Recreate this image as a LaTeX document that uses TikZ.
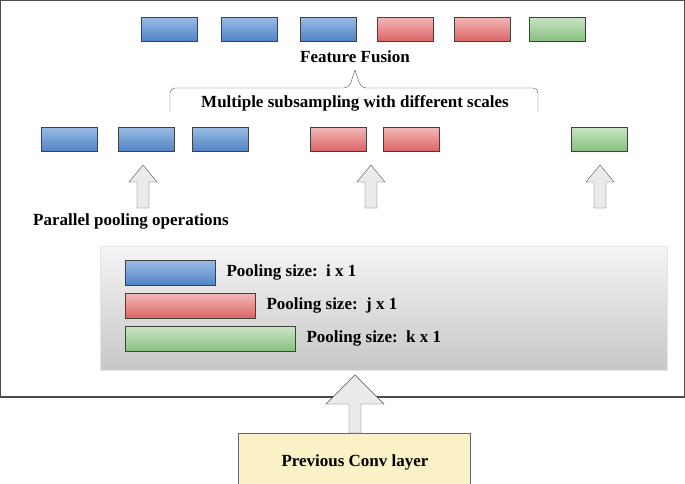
\documentclass[tikz,border=0pt]{standalone}
\usepackage{fontspec}
\setmainfont{Liberation Serif}
\usetikzlibrary{positioning}

\definecolor{bluetop}{HTML}{9BBDE6}
\definecolor{bluebot}{HTML}{5283C4}
\definecolor{redtop}{HTML}{F2B9B9}
\definecolor{redbot}{HTML}{DD6464}
\definecolor{greentop}{HTML}{CBE4C6}
\definecolor{greenbot}{HTML}{86C07E}
\definecolor{convfill}{HTML}{FBF1C6}

\tikzset{
  feat/.style={draw=black!75,minimum width=56pt,minimum height=24pt,inner sep=0pt},
  blue/.style={feat,top color=bluetop,bottom color=bluebot},
  red/.style={feat,top color=redtop,bottom color=redbot},
  green/.style={feat,top color=greentop,bottom color=greenbot},
  lbl/.style={font=\fontsize{17}{20}\selectfont\bfseries,inner sep=0pt},
  uparrow/.pic={\draw[black!70,fill=black!8] (-6,0) -- (-6,-26) -- (-14,-26) -- (0,-43) -- (14,-26) -- (6,-26) -- (6,0) -- cycle;}
}

\begin{document}
\begin{tikzpicture}[x=1pt,y=-1pt]
  \useasboundingbox (0,0) rectangle (685,483);
  \draw[black!70,line width=1.2pt] (0.6,0.6) rectangle (684.4,397);

  % fused features
  \node[blue] (f1) at (169,29) {};
  \node[blue] (f2) at (249,29) {};
  \node[blue] (f3) at (328,29) {};
  \node[red] (f4) at (405,29) {};
  \node[red] (f5) at (482,29) {};
  \node[green] (f6) at (557,29) {};
  \node[lbl] (fusion) at (355,57) {Feature Fusion};

  % pooled features
  \node[blue] (p1) at (69,139) {};
  \node[blue] (p2) at (146,139) {};
  \node[blue] (p3) at (220,139) {};
  \node[red] (p4) at (338,139) {};
  \node[red] (p5) at (411,139) {};
  \node[green] (p6) at (599,139) {};
  \node[lbl] (multi) at (355,103) {Multiple subsampling with different scales};
  \draw[black!70,rounded corners=5pt] (170,112) -- (170,88) -- (349,88) -- (355,70);
  \draw[black!70,rounded corners=5pt] (538,112) -- (538,88) -- (361,88) -- (355,70);

  \pic at (143,208) {uparrow};
  \pic at (371,208) {uparrow};
  \pic at (600,208) {uparrow};
  \node[lbl,anchor=west] (parallel) at (33,221) {Parallel pooling operations};

  % legend
  \node[draw=black!10,top color=black!4,bottom color=black!22,minimum width=567pt,minimum height=124pt,inner sep=0pt,anchor=north west] (legend) at (100,246) {};
  \node[blue,minimum width=90pt,minimum height=25pt,anchor=north west] (sizei) at (125,260) {};
  \node[red,minimum width=130pt,minimum height=25pt,anchor=north west] (sizej) at (125,293) {};
  \node[green,minimum width=170pt,minimum height=25pt,anchor=north west] (sizek) at (125,326) {};
  \node[lbl,right=11pt of sizei] {Pooling size:\ \ i x 1};
  \node[lbl,right=11pt of sizej] {Pooling size:\ \ j x 1};
  \node[lbl,right=11pt of sizek] {Pooling size:\ \ k x 1};

  % input
  \node[draw=black!60,fill=convfill,minimum width=232pt,minimum height=60pt,anchor=north west] (conv) at (238,433) {};
  \node[lbl] at (355,462) {Previous Conv layer};
  \draw[black!70,fill=black!8] (349,433) -- (349,404) -- (326,404) -- (355,375) -- (384,404) -- (361,404) -- (361,433) -- cycle;
\end{tikzpicture}
\end{document}
